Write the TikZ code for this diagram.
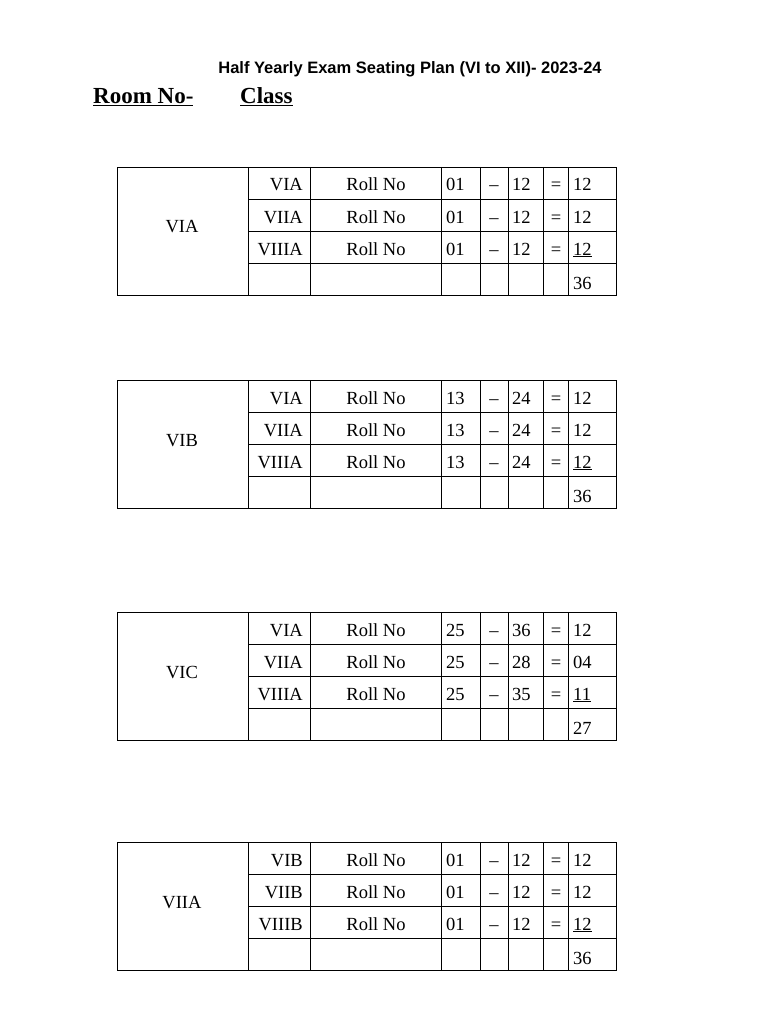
\documentclass[tikz,border=0pt]{standalone}
\usepackage{fontspec}
\setmainfont{Liberation Serif}
\newfontfamily\arialf{Liberation Sans}
\begin{document}
\begin{tikzpicture}[x=1pt,y=-1pt,
  cell/.style={font=\fontsize{18.5}{19}\selectfont,inner sep=0pt,anchor=base},
  ln/.style={line width=0.8pt}]
\useasboundingbox (0,0) rectangle (768,1024);
\node[font=\arialf\bfseries\fontsize{16.5}{17}\selectfont,inner sep=0pt,anchor=base] (title) at (410,74) {Half Yearly Exam Seating Plan (VI to XII)- 2023-24};
\node[font=\bfseries\fontsize{23}{24}\selectfont,inner sep=0pt,anchor=base west] (room) at (93,104) {\underline{Room No-}};
\node[font=\bfseries\fontsize{23}{24}\selectfont,inner sep=0pt,anchor=base west] (cls) at (240,104) {\underline{Class}};
\newcommand\seattable[4]{%
 \begin{scope}[yshift=-#1]
 \draw[ln] (117,0) rectangle (616,128);
 \foreach \x in {248,310,441,480,508,543,568} \draw[ln] (\x,0) -- (\x,128);
 \foreach \y in {32,64,96} \draw[ln] (248,\y) -- (616,\y);
 \node[cell] (rm#1) at (182,66) {#2};
 \foreach \c/\a/\b/\t [count=\i] in {#3} {
   \pgfmathsetmacro\yy{\i*32-8}
   \node[cell,anchor=base east] at (303,\yy) {\c};
   \node[cell] at (376,\yy) {Roll No};
   \node[cell,anchor=base west] at (446,\yy) {\a};
   \node[cell] at (494,\yy) {–};
   \node[cell,anchor=base west] at (512,\yy) {\b};
   \node[cell] at (556,\yy) {=};
   \node[cell,anchor=base west] at (573,\yy) {\ifnum\i=3 \underline{\t}\else\t\fi};
 }
 \node[cell,anchor=base west] at (573,122) {#4};
 \end{scope}}
\seattable{167}{VIA}{VIA/01/12/12,VIIA/01/12/12,VIIIA/01/12/12}{36}
\seattable{380}{VIB}{VIA/13/24/12,VIIA/13/24/12,VIIIA/13/24/12}{36}
\seattable{612}{VIC}{VIA/25/36/12,VIIA/25/28/04,VIIIA/25/35/11}{27}
\seattable{842}{VIIA}{VIB/01/12/12,VIIB/01/12/12,VIIIB/01/12/12}{36}
\end{tikzpicture}
\end{document}
